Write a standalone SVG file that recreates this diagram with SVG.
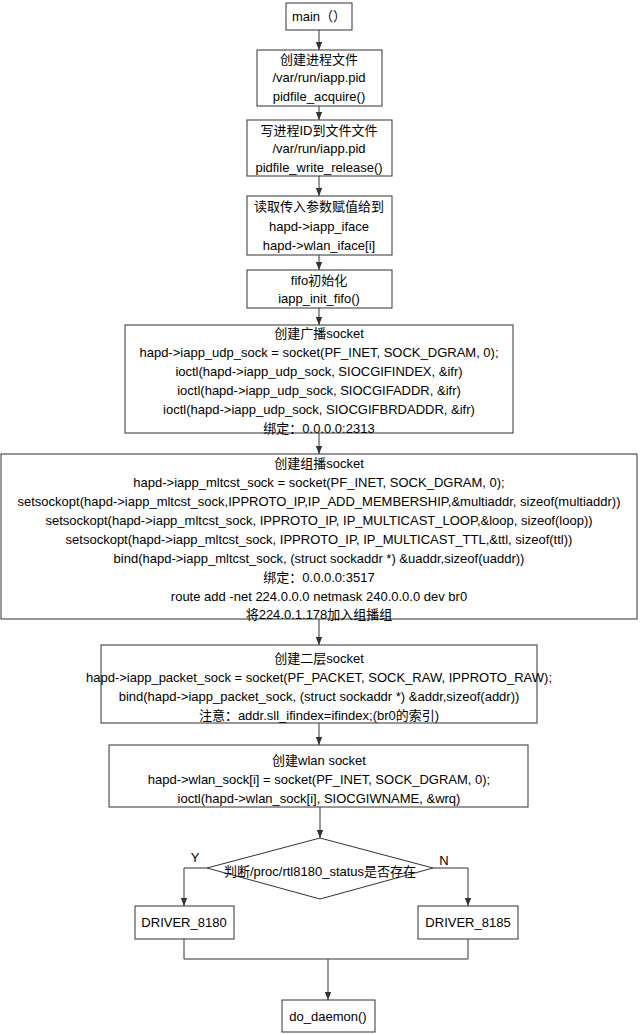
<svg xmlns="http://www.w3.org/2000/svg" width="640" height="1034" viewBox="0 0 640 1034">
<defs>
<style>
rect,polygon{fill:#fff;stroke:#333;stroke-width:1}
text{font-family:"Liberation Sans","Noto Sans CJK SC",sans-serif;font-size:13px;fill:#000;text-anchor:middle}
.c{fill:none;stroke:#333;stroke-width:1}
</style>
<marker id="a" viewBox="0 0 10 10" refX="10" refY="5" markerWidth="8" markerHeight="8" orient="auto"><path d="M0,1L10,5L0,9z" fill="#333"/></marker>
</defs>
<g id="connectors">
<path class="c" d="M319,30V50" marker-end="url(#a)"/>
<path class="c" d="M319,106V120" marker-end="url(#a)"/>
<path class="c" d="M319,176V196" marker-end="url(#a)"/>
<path class="c" d="M319,255V270" marker-end="url(#a)"/>
<path class="c" d="M319,308V325" marker-end="url(#a)"/>
<path class="c" d="M319,433V454" marker-end="url(#a)"/>
<path class="c" d="M319,619V645" marker-end="url(#a)"/>
<path class="c" d="M319,723V745" marker-end="url(#a)"/>
<path class="c" d="M320,807V838" marker-end="url(#a)"/>
<path class="c" d="M207,868H184V906" marker-end="url(#a)"/>
<path class="c" d="M433,868H468V906" marker-end="url(#a)"/>
<path class="c" d="M184,939V959H468V939"/>
<path class="c" d="M328,959V1000" marker-end="url(#a)"/>
<text x="195" y="862">Y</text>
<text x="444" y="865">N</text>
</g>
<g id="n1"><rect x="286" y="3" width="66" height="27"/><text x="319" y="21">main（）</text></g>
<g id="n2"><rect x="257" y="50" width="125" height="56"/><text x="319" y="64">创建进程文件</text><text x="319" y="82">/var/run/iapp.pid</text><text x="319" y="101">pidfile_acquire()</text></g>
<g id="n3"><rect x="247" y="120" width="145" height="56"/><text x="319" y="135">写进程ID到文件文件</text><text x="319" y="153">/var/run/iapp.pid</text><text x="319" y="172">pidfile_write_release()</text></g>
<g id="n4"><rect x="247" y="196" width="145" height="59"/><text x="319" y="211">读取传入参数赋值给到</text><text x="319" y="231">hapd-&gt;iapp_iface</text><text x="319" y="250">hapd-&gt;wlan_iface[i]</text></g>
<g id="n5"><rect x="247" y="270" width="145" height="38"/><text x="319" y="285">fifo初始化</text><text x="319" y="303">iapp_init_fifo()</text></g>
<g id="n6"><rect x="125" y="325" width="388" height="108"/>
<text x="319" y="338">创建广播socket</text>
<text x="319" y="357">hapd-&gt;iapp_udp_sock = socket(PF_INET, SOCK_DGRAM, 0);</text>
<text x="319" y="376">ioctl(hapd-&gt;iapp_udp_sock, SIOCGIFINDEX, &amp;ifr)</text>
<text x="319" y="395">ioctl(hapd-&gt;iapp_udp_sock, SIOCGIFADDR, &amp;ifr)</text>
<text x="319" y="414">ioctl(hapd-&gt;iapp_udp_sock, SIOCGIFBRDADDR, &amp;ifr)</text>
<text x="319" y="433">绑定：0.0.0.0:2313</text></g>
<g id="n7"><rect x="1" y="454" width="636" height="165"/>
<text x="319" y="468">创建组播socket</text>
<text x="319" y="487">hapd-&gt;iapp_mltcst_sock = socket(PF_INET, SOCK_DGRAM, 0);</text>
<text x="319" y="506">setsockopt(hapd-&gt;iapp_mltcst_sock,IPPROTO_IP,IP_ADD_MEMBERSHIP,&amp;multiaddr, sizeof(multiaddr))</text>
<text x="319" y="525">setsockopt(hapd-&gt;iapp_mltcst_sock, IPPROTO_IP, IP_MULTICAST_LOOP,&amp;loop, sizeof(loop))</text>
<text x="319" y="544">setsockopt(hapd-&gt;iapp_mltcst_sock, IPPROTO_IP, IP_MULTICAST_TTL,&amp;ttl, sizeof(ttl))</text>
<text x="319" y="563">bind(hapd-&gt;iapp_mltcst_sock, (struct sockaddr *) &amp;uaddr,sizeof(uaddr))</text>
<text x="319" y="582">绑定：0.0.0.0:3517</text>
<text x="319" y="601">route add -net 224.0.0.0 netmask 240.0.0.0 dev br0</text>
<text x="319" y="619">将224.0.1.178加入组播组</text></g>
<g id="n8"><rect x="101" y="645" width="436" height="78"/>
<text x="319" y="663">创建二层socket</text>
<text x="319" y="682">hapd-&gt;iapp_packet_sock = socket(PF_PACKET, SOCK_RAW, IPPROTO_RAW);</text>
<text x="319" y="701">bind(hapd-&gt;iapp_packet_sock, (struct sockaddr *) &amp;addr,sizeof(addr))</text>
<text x="319" y="720">注意：addr.sll_ifindex=ifindex;(br0的索引)</text></g>
<g id="n9"><rect x="109" y="745" width="419" height="62"/>
<text x="319" y="765">创建wlan socket</text>
<text x="319" y="784">hapd-&gt;wlan_sock[i] = socket(PF_INET, SOCK_DGRAM, 0);</text>
<text x="319" y="803">ioctl(hapd-&gt;wlan_sock[i], SIOCGIWNAME, &amp;wrq)</text></g>
<g id="d1"><polygon points="320,838 433,868 320,899 207,868"/><text x="320" y="876">判断/proc/rtl8180_status是否存在</text></g>
<g id="n10"><rect x="135" y="906" width="99" height="33"/><text x="184" y="927">DRIVER_8180</text></g>
<g id="n11"><rect x="418" y="906" width="100" height="33"/><text x="468" y="927">DRIVER_8185</text></g>
<g id="n12"><rect x="282" y="1000" width="93" height="32"/><text x="328" y="1021">do_daemon()</text></g>
</svg>
